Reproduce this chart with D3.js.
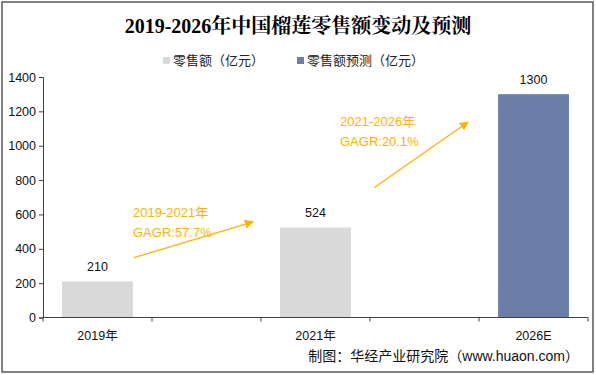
<!DOCTYPE html>
<meta charset="utf-8">
<style>
    body { margin: 0; background: #fff; }
    text { font-family: "Liberation Sans", Arial, "Noto Sans CJK SC", sans-serif; }
</style>
<svg width="596" height="375"></svg>
<script src="https://d3js.org/d3.v7.min.js"></script>
<script>
    var categories = ["2019年", "", "2021年", "", "2026E"];
    var actual = [210, null, 524, null, null];
    var forecast = [null, null, null, null, 1300];
    var yTicks = [0, 200, 400, 600, 800, 1000, 1200, 1400];
    var legendNames = ["零售额（亿元）", "零售额预测（亿元）"];
    // arrow ends given as [category index, value]
    var notes = [
        {lines: ["2019-2021年", "GAGR:57.7%"], from: [0, 348], to: [2, 557]},
        {lines: ["2021-2026年", "GAGR:20.1%"], from: [3, 755], to: [4, 1138]}
    ];

    var svg = d3.select("svg"),
        width = +svg.attr("width"),
        height = +svg.attr("height");

    var margin = {top: 77, right: 8, bottom: 57, left: 43};
    var gray = "#d9d9d9", blue = "#6a7ea8", orange = "#ffb300";

    svg.append("rect")
        .attr("x", 2).attr("y", 2)
        .attr("width", width - 5).attr("height", height - 5)
        .attr("fill", "#fff").attr("stroke", "#595959").attr("stroke-width", 1.5);

    var x = d3.scaleBand()
        .domain(d3.range(categories.length))
        .range([margin.left, width - margin.right])
        .paddingInner(0.35).paddingOuter(0.175);

    var step = x.step();

    var y = d3.scaleLinear()
        .domain([0, 1400])
        .range([height - margin.bottom - 0.5, margin.top]);

    // title
    svg.append("text")
        .attr("x", width / 2).attr("y", 33)
        .attr("text-anchor", "middle")
        .style("font-family", "'Liberation Serif', 'Noto Serif CJK SC', 'Noto Sans CJK SC', serif")
        .style("font-size", "20px").style("font-weight", "bold")
        .text("2019-2026年中国榴莲零售额变动及预测");

    // legend
    var legend = svg.append("g").attr("transform", "translate(163,61)");
    [[gray, legendNames[0], 0], [blue, legendNames[1], 134]].forEach(function(d) {
        legend.append("rect").attr("x", d[2]).attr("y", -4).attr("width", 7).attr("height", 7).attr("fill", d[0]);
        legend.append("text").attr("x", d[2] + 10).attr("y", 4)
            .style("font-size", "13px").attr("fill", "#222").text(d[1]);
    });

    // bars
    var plot = svg.append("g");
    function drawBars(values, color) {
        var data = values.map(function(v, i) { return {i: i, v: v}; }).filter(function(d) { return d.v != null; });
        plot.selectAll(null).data(data).enter().append("rect")
            .attr("x", function(d) { return x(d.i); })
            .attr("y", function(d) { return y(d.v); })
            .attr("width", x.bandwidth())
            .attr("height", function(d) { return y(0) - y(d.v); })
            .attr("fill", color);
        plot.selectAll(null).data(data).enter().append("text")
            .attr("x", function(d) { return x(d.i) + x.bandwidth() / 2; })
            .attr("y", function(d) { return y(d.v) - 10; })
            .attr("text-anchor", "middle")
            .style("font-size", "12.5px").attr("fill", "#111")
            .text(function(d) { return d.v; });
    }
    drawBars(actual, gray);
    drawBars(forecast, blue);

    // y axis
    var yAxis = svg.append("g")
        .attr("transform", "translate(" + margin.left + ",0)")
        .call(d3.axisLeft(y).tickValues(yTicks).tickFormat(d3.format("d")).tickSize(4).tickPadding(3));
    yAxis.select(".domain").attr("stroke", "#404040");
    yAxis.selectAll(".tick line").attr("stroke", "#404040");
    yAxis.selectAll("text").style("font-size", "12.5px").attr("fill", "#111");

    // x axis
    var xAxis = svg.append("g")
        .attr("transform", "translate(0," + y(0) + ")");
    xAxis.append("line")
        .attr("x1", margin.left).attr("x2", width - margin.right)
        .attr("stroke", "#404040");
    xAxis.selectAll(null).data(d3.range(categories.length + 1)).enter().append("line")
        .attr("x1", function(i) { return margin.left + i * step; })
        .attr("x2", function(i) { return margin.left + i * step; })
        .attr("y1", 0).attr("y2", 4).attr("stroke", "#404040");
    xAxis.selectAll(null).data(categories).enter().append("text")
        .attr("x", function(d, i) { return x(i) + x.bandwidth() / 2; })
        .attr("y", 22)
        .attr("text-anchor", "middle")
        .style("font-size", "12.5px").attr("fill", "#111")
        .text(function(d) { return d; });

    // growth annotations
    svg.append("defs").append("marker")
        .attr("id", "arr").attr("viewBox", "0 0 10 10")
        .attr("refX", 9).attr("refY", 5)
        .attr("markerWidth", 7).attr("markerHeight", 7)
        .attr("orient", "auto")
        .append("path").attr("d", "M0,0L10,5L0,10z").attr("fill", orange);

    var startDx = [x.bandwidth() + 1, -15], endDx = [-27, -30];
    var noteText = [[133, 217], [340, 126]];
    notes.forEach(function(n, k) {
        svg.append("line")
            .attr("x1", x(n.from[0]) + startDx[k])
            .attr("y1", y(n.from[1]))
            .attr("x2", x(n.to[0]) + endDx[k])
            .attr("y2", y(n.to[1]))
            .attr("stroke", orange).attr("stroke-width", 1.3)
            .attr("marker-end", "url(#arr)");
        n.lines.forEach(function(t, j) {
            svg.append("text")
                .attr("x", noteText[k][0]).attr("y", noteText[k][1] + j * 19.5)
                .style("font-size", "13px").attr("fill", orange)
                .text(t);
        });
    });

    // source
    svg.append("text")
        .attr("x", 579).attr("y", 361)
        .attr("text-anchor", "end")
        .style("font-size", "14px").attr("fill", "#111")
        .text("制图：华经产业研究院（www.huaon.com）");
</script>
